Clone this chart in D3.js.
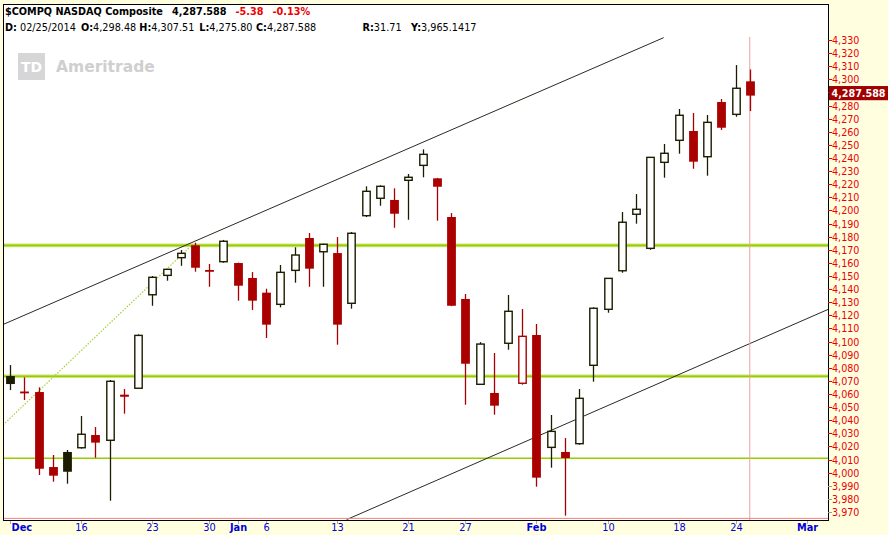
<!DOCTYPE html>
<html><head><meta charset="utf-8">
<script src="https://cdn.jsdelivr.net/npm/d3@7/dist/d3.min.js"></script>
<style>
html,body{margin:0;padding:0;background:#ffffe0;}
svg{display:block;}
</style></head><body>
<svg id="chart" width="888" height="535"></svg>
<script>
// ---------- DATA ----------
const dates = ["2013-12-09","2013-12-10","2013-12-11","2013-12-12","2013-12-13",
"2013-12-16","2013-12-17","2013-12-18","2013-12-19","2013-12-20",
"2013-12-23","2013-12-24","2013-12-26","2013-12-27","2013-12-30","2013-12-31",
"2014-01-02","2014-01-03","2014-01-06","2014-01-07","2014-01-08","2014-01-09","2014-01-10",
"2014-01-13","2014-01-14","2014-01-15","2014-01-16","2014-01-17",
"2014-01-21","2014-01-22","2014-01-23","2014-01-24",
"2014-01-27","2014-01-28","2014-01-29","2014-01-30","2014-01-31",
"2014-02-03","2014-02-04","2014-02-05","2014-02-06","2014-02-07",
"2014-02-10","2014-02-11","2014-02-12","2014-02-13","2014-02-14",
"2014-02-18","2014-02-19","2014-02-20","2014-02-21","2014-02-24","2014-02-25"];
const futureDates = ["2014-02-26","2014-02-27","2014-02-28","2014-03-03","2014-03-04"];
const opens  = [4073.7,4061.9,4061.5,4004.3,4015.8,4019.0,4028.7,4024.7,4059.5,4064.4,
4135.7,4150.5,4164.0,4173.4,4154.6,4160.9,4159.9,4148.5,4137.3,4128.4,4154.3,4179.0,4168.5,
4167.5,4129.2,4196.0,4209.3,4208.0,4223.0,4234.4,4224.5,4195.0,4132.5,4067.4,4060.8,4098.7,4068.2,
4105.0,4019.3,4015.8,4022.1,4081.9,4124.6,4154.0,4197.1,4171.1,4236.7,4253.5,4260.6,4241.0,4282.7,4273.3,4298.48];
const highs  = [4082.1,4072.7,4065.1,4013.5,4017.3,4043.2,4034.8,4070.7,4063.8,4105.5,
4150.0,4155.5,4169.8,4175.4,4159.2,4177.5,4160.2,4153.0,4140.3,4158.4,4171.9,4182.8,4174.6,
4179.7,4183.6,4218.4,4219.2,4216.9,4227.8,4246.6,4224.8,4198.0,4136.3,4099.6,4091.3,4135.5,4124.8,
4113.4,4044.0,4026.4,4063.8,4126.1,4148.5,4198.8,4212.5,4240.8,4250.7,4277.4,4274.3,4272.8,4285.0,4310.9,4307.51];
const lows   = [4063.0,4055.4,3998.2,3993.1,3991.6,4018.3,4011.4,3978.6,4045.0,4064.0,
4127.3,4146.4,4157.8,4153.3,4141.8,4160.1,4131.2,4124.1,4102.7,4126.1,4144.9,4141.8,4141.8,
4097.6,4125.1,4195.0,4203.6,4186.8,4192.9,4225.3,4192.2,4127.0,4051.8,4067.0,4044.2,4093.8,4067.1,
3989.3,4003.8,3967.2,4021.3,4069.4,4122.0,4152.5,4189.9,4170.0,4225.0,4243.3,4231.8,4226.5,4261.4,4271.5,4275.80];
const closes = [4067.6,4060.5,4003.0,3997.7,4000.7,4029.3,4022.9,4069.7,4057.9,4104.7,
4149.0,4155.1,4167.3,4156.3,4153.3,4176.5,4142.6,4131.2,4112.9,4152.8,4166.0,4155.6,4174.2,
4112.9,4182.6,4214.6,4218.4,4197.5,4225.3,4242.8,4218.1,4127.3,4083.1,4098.1,4051.1,4123.1,4104.0,
3996.2,4031.5,4011.2,4056.7,4125.4,4148.2,4191.0,4200.9,4240.5,4243.6,4272.6,4237.2,4267.2,4263.1,4293.2,4287.588];

const yTicks = [3970,3980,3990,4000,4010,4020,4030,4040,4050,4060,4070,4080,4090,4100,4110,4120,
4130,4140,4150,4160,4170,4180,4190,4200,4210,4220,4230,4240,4250,4260,4270,4280,4290,4300,4310,4320,4330];
const xTickDates  = ["2013-12-09","2013-12-16","2013-12-23","2013-12-30","2014-01-02","2014-01-06","2014-01-13",
"2014-01-21","2014-01-27","2014-02-03","2014-02-10","2014-02-18","2014-02-24","2014-03-03"];
const xTickLabels = ["Dec","16","23","30","Jan","6","13","21","27","Feb","10","18","24","Mar"];

// annotations: [bar index, value]
const upperTrend = [[-0.5, 4113.0], [45.95, 4331.8]];
const lowerTrend = [[23.66, 3964.2], [57.5, 4124.5]];
const dottedTrend = [[-0.5, 4036.4], [12.86, 4174.4]];
const hLevels = [4173.4, 4073.5, 4011.0];
const hLevelThick = [true, true, false];
const cursorDate = "2014-02-25";
const cursorValue = 3965.1417;
const lastPrice = 4287.588;

// ---------- LAYOUT ----------
const svg = d3.select("#chart");
const L = 3, R = 828, T = 37, B = 520, FT = 4;
const slots = dates.concat(futureDates);
const x = d3.scaleBand().domain(slots).range([L, R]);
const half = x.bandwidth() / 2;
const xc = d => x(d) + half;
const xi = d3.scaleLinear().domain([0, slots.length - 1]).range([xc(slots[0]), xc(slots[slots.length - 1])]);
const y = d3.scaleLinear().domain([3963.9, 4332.3]).range([B, T]);

const RED = "#aa0000", BLK = "#1c1c00", FONT = "DejaVu Sans, Verdana, sans-serif";

// frame
svg.append("rect").attr("x", L + 0.5).attr("y", FT + 0.5).attr("width", R - L).attr("height", B - FT)
  .attr("fill", "#fff").attr("stroke", "none");

svg.append("defs").append("clipPath").attr("id", "plotclip")
  .append("rect").attr("x", L + 1).attr("y", T).attr("width", R - L - 1).attr("height", B - T);

// watermark
const wm = svg.append("g");
wm.append("rect").attr("x", 18).attr("y", 53).attr("width", 27).attr("height", 27).attr("fill", "#d6d6d6");
wm.append("text").attr("x", 31.5).attr("y", 72).attr("text-anchor", "middle").attr("font-family", FONT)
  .attr("font-weight", "bold").attr("font-size", 14).attr("fill", "#fff").text("TD");
wm.append("text").attr("x", 56).attr("y", 71.5).attr("font-family", FONT).attr("font-weight", "bold")
  .attr("font-size", 15.5).attr("fill", "#cfcfcf").text("Ameritrade");

const plot = svg.append("g").attr("clip-path", "url(#plotclip)");

// horizontal levels
hLevels.forEach((v, i) => {
  const yy = y(v);
  if (hLevelThick[i]) {
    plot.append("line").attr("x1", L).attr("x2", R).attr("y1", yy).attr("y2", yy)
      .attr("stroke", "#cde67a").attr("stroke-width", 3.6);
    plot.append("line").attr("x1", L).attr("x2", R).attr("y1", yy).attr("y2", yy)
      .attr("stroke", "#99cc00").attr("stroke-width", 1.6);
  } else {
    plot.append("line").attr("x1", L).attr("x2", R).attr("y1", yy).attr("y2", yy)
      .attr("stroke", "#99cc00").attr("stroke-width", 1.4);
  }
});

// trend lines
const line = d3.line().x(p => xi(p[0])).y(p => y(p[1]));
plot.append("path").attr("d", line(upperTrend)).attr("fill", "none").attr("stroke", "#2a2a20").attr("stroke-width", 1);
plot.append("path").attr("d", line(lowerTrend)).attr("fill", "none").attr("stroke", "#2a2a20").attr("stroke-width", 1);
plot.append("path").attr("d", line(dottedTrend)).attr("fill", "none").attr("stroke", "#a6d03a")
  .attr("stroke-width", 1.2).attr("stroke-dasharray", "1.5,1.5");

// cursor
plot.append("line").attr("x1", xc(cursorDate)).attr("x2", xc(cursorDate)).attr("y1", T).attr("y2", B)
  .attr("stroke", "#eaa0a0").attr("stroke-width", 1);
plot.append("line").attr("x1", L).attr("x2", R).attr("y1", y(cursorValue)).attr("y2", y(cursorValue))
  .attr("stroke", "#f08080").attr("stroke-width", 1);

// candles
const candles = dates.map((d, i) => ({ d, o: opens[i], h: highs[i], l: lows[i], c: closes[i], p: i ? closes[i - 1] : null }));
const cg = plot.selectAll("g.candle").data(candles).join("g").attr("class", "candle");
cg.each(function (k) {
  const g = d3.select(this);
  const cx = Math.round(xc(k.d)) + 0.5;
  const col = (k.p !== null && k.c < k.p) ? RED : BLK;
  const hollow = k.c > k.o;
  g.append("line").attr("x1", cx).attr("x2", cx).attr("y1", y(k.h)).attr("y2", y(k.l))
    .attr("stroke", col).attr("stroke-width", 1.3);
  if (hollow) {
    const top = y(k.c), bot = y(k.o);
    g.append("rect").attr("x", cx - 3.7).attr("width", 7.4).attr("y", top).attr("height", Math.max(bot - top, 1))
      .attr("fill", "#fff").attr("stroke", col).attr("stroke-width", 1.4);
  } else {
    const top = y(k.o), bot = y(k.c);
    g.append("rect").attr("x", cx - 4.4).attr("width", 8.8).attr("y", top).attr("height", Math.max(bot - top, 1.8))
      .attr("fill", col);
  }
});

// frame border
svg.append("rect").attr("x", L + 0.5).attr("y", FT + 0.5).attr("width", R - L).attr("height", B - FT)
  .attr("fill", "none").attr("stroke", "#000").attr("stroke-width", 1);

// y axis
const ly = y(lastPrice);
const boxTop = ly - 9.6, boxH = 14.2;
const ya = svg.append("g");
yTicks.forEach(v => {
  const yy = Math.round(y(v)) + 0.5;
  ya.append("line").attr("x1", R).attr("x2", R + 4).attr("y1", yy).attr("y2", yy)
    .attr("stroke", v < 4000 ? "#999" : "#e00000").attr("stroke-width", 1);
  // label hidden behind the last-price box is not drawn
  if (yy > boxTop - 1 && yy < boxTop + boxH + 1) return;
  ya.append("text").attr("x", R + 4).attr("y", yy + 3.5).attr("font-family", FONT).attr("font-size", 9.6)
    .attr("fill", "#ee0000").text(d3.format(",")(v));
});
ya.append("rect").attr("x", R + 1).attr("y", boxTop).attr("width", 888 - R).attr("height", boxH).attr("fill", "#a00000");
ya.append("text").attr("x", R + 3.5).attr("y", ly + 1.2).attr("font-family", FONT).attr("font-size", 9.6)
  .attr("font-weight", "bold").attr("fill", "#fff").text(d3.format(",.3f")(lastPrice));

// x axis
const xa = svg.append("g");
xTickDates.forEach((d, i) => {
  const cx = Math.round(xc(d)) + 0.5;
  const lab = xTickLabels[i];
  const isMonth = /[A-Za-z]/.test(lab);
  xa.append("line").attr("x1", cx).attr("x2", cx).attr("y1", B + 1).attr("y2", B + 4).attr("stroke", "#aab").attr("stroke-width", 1);
  xa.append("text").attr("x", i === 0 ? cx + 1 : cx).attr("y", 531)
    .attr("text-anchor", i === 0 ? "start" : "middle")
    .attr("font-family", FONT).attr("font-size", 9.8).attr("font-weight", isMonth ? "bold" : "normal")
    .attr("fill", "#0000dd").text(lab);
});

// header
const h1 = svg.append("text").attr("y", 15).attr("font-family", FONT).attr("font-size", 9.7).attr("font-weight", "bold");
h1.append("tspan").attr("x", 5).attr("fill", "#000").text("$COMPQ NASDAQ Composite");
h1.append("tspan").attr("x", 172).attr("fill", "#000").text("4,287.588");
h1.append("tspan").attr("x", 235.5).attr("fill", "#ee0000").text("-5.38");
h1.append("tspan").attr("x", 272.5).attr("fill", "#ee0000").text("-0.13%");

const h2 = svg.append("text").attr("y", 31).attr("font-family", FONT).attr("font-size", 9.7).attr("fill", "#000");
const parts = [[5, "D:", " 02/25/2014"], [81, "O:", "4,298.48"], [139.3, "H:", "4,307.51"], [199.3, "L:", "4,275.80"],
  [256, "C:", "4,287.588"], [362.5, "R:", "31.71"], [411, "Y:", "3,965.1417"]];
parts.forEach(p => {
  h2.append("tspan").attr("x", p[0]).attr("font-weight", "bold").text(p[1]);
  h2.append("tspan").attr("font-weight", "normal").text(p[2]);
});
</script>
</body></html>
